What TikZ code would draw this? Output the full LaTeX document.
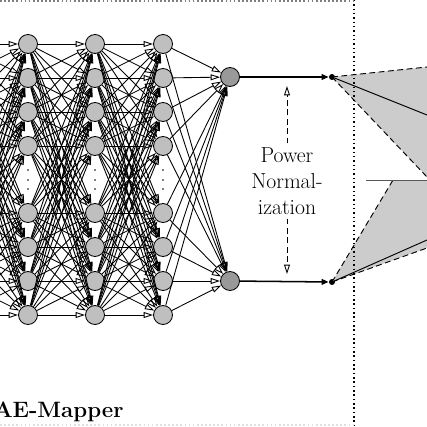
\documentclass[tikz,border=0pt]{standalone}
\usetikzlibrary{arrows.meta}
\begin{document}
\begin{tikzpicture}[x=0.03cm, y=-0.03cm, line width=0.75pt,
		neuron/.style={circle, draw, fill=gray!50, minimum size=0.57cm, inner sep=0pt},
		outneuron/.style={neuron, fill=gray!80},
		symdot/.style={circle, fill=black, minimum size=0.18cm, inner sep=0pt},
		conn/.style={-{Triangle[open, length=8pt, width=5pt]}},
		fanedge/.style={dash pattern=on 5pt off 3pt, line width=0.8pt},
		every node/.style={font=\fontsize{18.5}{22}\selectfont}]
				% 0. 画布与裁剪
				\useasboundingbox (0,0) rectangle (427,427);
				\clip (0,0) rectangle (427,427);
				
				% 1. 星座扇形区域 (最底层)
				\node[symdot] (s1) at (332,77) {};
				\node[symdot] (s2) at (332,282) {};
				\coordinate (f1a) at (427,67);
				\coordinate (f1b) at (427,115);
				\coordinate (f1c) at (427,177);
				\coordinate (f2a) at (393,180);
				\coordinate (f2b) at (427,240);
				\coordinate (f2c) at (427,248);
				\fill[gray!40] (s1.center) -- (f1a) -- (f1c) -- cycle;
				\fill[gray!40] (s2.center) -- (f2a) -- (427,180) -- (f2c) -- cycle;
				\draw[fanedge] (s1.center) -- (f1a);
				\draw[fanedge] (s1.center) -- (f1c);
				\draw[line width=0.8pt] (s1.center) -- (f1b);
				\draw[fanedge] (s2.center) -- (f2a);
				\draw[fanedge] (s2.center) -- (f2c);
				\draw[line width=0.8pt] (s2.center) -- (f2b);
				\coordinate (ax-l) at (366,180);
				\coordinate (ax-r) at (427,180);
				\draw[gray!70!black, line width=0.8pt] (ax-l) -- (ax-r);
				
				% 2. 分隔线
				\draw[dash pattern=on 1.2pt off 2.5pt, line width=1.3pt] (354,0) -- (354,427);
				\draw[gray, dash pattern=on 1.5pt off 2pt, line width=1.2pt] (0,1) -- (354,1);
				\draw[gray!25, dash pattern=on 1.5pt off 2pt, line width=1pt] (0,425) -- (354,425);
				
				% 3. 神经元 (输入层在画面左侧之外)
				\foreach \l/\x in {0/-40, 1/28, 2/95, 3/163} {
					\foreach \r/\y in {1/44, 2/78, 3/112, 4/146, 5/213, 6/247, 7/281, 8/315} {
						\node[neuron] (n\l-\r) at (\x,\y) {};
					}
					\foreach \y in {170, 180, 189} \fill (\x,\y) circle (0.8pt);
				}
				\node[outneuron] (o1) at (230,77) {};
				\node[outneuron] (o2) at (230,281) {};
				
				% 4. 全连接
				\foreach \l/\m in {0/1, 1/2, 2/3}
					\foreach \i in {1,...,8}
						\foreach \j in {1,...,8}
							\draw[conn] (n\l-\i) -- (n\m-\j);
				\foreach \i in {1,...,8}
					\foreach \j in {1,2}
						\draw[conn] (n3-\i) -- (o\j);
				
				% 5. 功率归一化
				\draw[line width=1.3pt, -{Triangle[length=6pt, width=5pt]}] (o1) -- (s1);
				\draw[line width=1.3pt, -{Triangle[length=6pt, width=5pt]}] (o2) -- (s2);
				\node[align=center] (pn) at (287,181) {Power\\Normal-\\ization};
				\coordinate (pn-up) at (287,86);
				\coordinate (pn-down) at (287,274);
				\draw[conn, dash pattern=on 5pt off 3pt] (pn.north) -- (pn-up);
				\draw[conn, dash pattern=on 5pt off 3pt] (pn.south) -- (pn-down);
				
				% 6. 标题
				\node[anchor=base east, font=\fontsize{19}{22}\selectfont\bfseries, inner sep=0pt] (title) at (124,417) {AE-Mapper};
\end{tikzpicture}
\end{document}
